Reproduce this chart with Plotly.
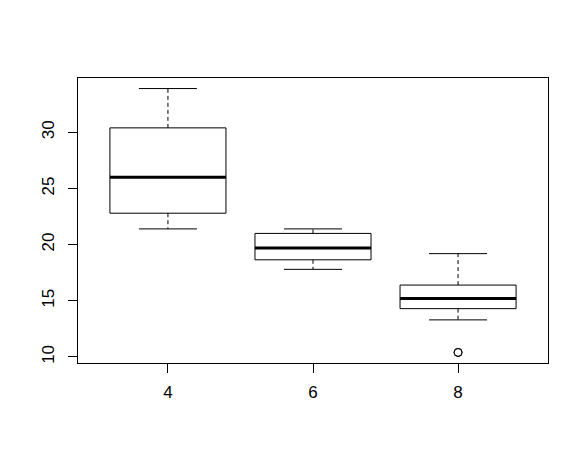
import numpy as np
import plotly.graph_objects as go

# mpg by number of cylinders (mtcars)
cyl_labels = ["4", "6", "8"]
mpg_4 = [22.8, 24.4, 22.8, 32.4, 30.4, 33.9, 21.5, 27.3, 26.0, 30.4, 21.4]
mpg_6 = [21.0, 21.0, 21.4, 18.1, 19.2, 17.8, 19.7]
mpg_8 = [18.7, 14.3, 16.4, 17.3, 15.2, 10.4, 10.4, 14.7, 15.5, 15.2, 13.3,
         19.2, 15.8, 15.0]
groups = [mpg_4, mpg_6, mpg_8]


def fivenum(vals):
    x = np.sort(np.asarray(vals, dtype=float))
    n = len(x)
    n4 = np.floor((n + 3) / 2) / 2
    d = np.array([1, n4, (n + 1) / 2, n + 1 - n4, n]) - 1
    return 0.5 * (x[np.floor(d).astype(int)] + x[np.ceil(d).astype(int)])


def box_stats(vals):
    x = np.asarray(vals, dtype=float)
    lo, q1, med, q3, hi = fivenum(x)
    iqr = q3 - q1
    inside = x[(x >= q1 - 1.5 * iqr) & (x <= q3 + 1.5 * iqr)]
    out = x[(x < q1 - 1.5 * iqr) | (x > q3 + 1.5 * iqr)]
    return q1, med, q3, inside.min(), inside.max(), out


bw = 0.4   # half box width
sw = 0.2   # half staple width
bx, by, mx, my, wx, wy, sx, sy, ox, oy = ([] for _ in range(10))
for i, g in enumerate(groups):
    pos = i + 1
    q1, med, q3, wlo, whi, out = box_stats(g)
    bx += [pos - bw, pos + bw, pos + bw, pos - bw, pos - bw, None]
    by += [q1, q1, q3, q3, q1, None]
    mx += [pos - bw, pos + bw, None]
    my += [med, med, None]
    wx += [pos, pos, None, pos, pos, None]
    wy += [q3, whi, None, q1, wlo, None]
    sx += [pos - sw, pos + sw, None, pos - sw, pos + sw, None]
    sy += [whi, whi, None, wlo, wlo, None]
    ox += [pos] * len(out)
    oy += list(out)

fig = go.Figure()
fig.add_trace(go.Scatter(x=wx, y=wy, mode="lines",
                         line=dict(color="black", width=1, dash="4px,3px")))
fig.add_trace(go.Scatter(x=sx, y=sy, mode="lines",
                         line=dict(color="black", width=1)))
fig.add_trace(go.Scatter(x=bx, y=by, mode="lines",
                         line=dict(color="black", width=1)))
fig.add_trace(go.Scatter(x=mx, y=my, mode="lines",
                         line=dict(color="black", width=3)))
fig.add_trace(go.Scatter(x=ox, y=oy, mode="markers",
                         marker=dict(symbol="circle-open", size=8,
                                     color="black", line=dict(width=1))))

# page body has an 8px margin, so shift plot area up/left by 8
fig.update_layout(
    width=588, height=461,
    margin=dict(l=70, r=48, t=70, b=106),
    paper_bgcolor="white", plot_bgcolor="white",
    showlegend=False,
    font=dict(family="Liberation Sans, Arial, sans-serif", size=17, color="black"),
    xaxis=dict(range=[0.38, 3.62], tickvals=[1, 2, 3], ticktext=cyl_labels,
               showgrid=False, zeroline=False, showline=True, mirror=True,
               linecolor="black", linewidth=1, ticks="outside", ticklen=9,
               tickcolor="black", ticklabelstandoff=5),
    yaxis=dict(range=[9.46, 34.84], tickvals=[10, 15, 20, 25, 30],
               tickangle=-90, showgrid=False, zeroline=False, showline=True,
               mirror=True, linecolor="black", linewidth=1, ticks="outside",
               ticklen=9, tickcolor="black", ticklabelstandoff=7),
)

fig.write_html("out.html")
